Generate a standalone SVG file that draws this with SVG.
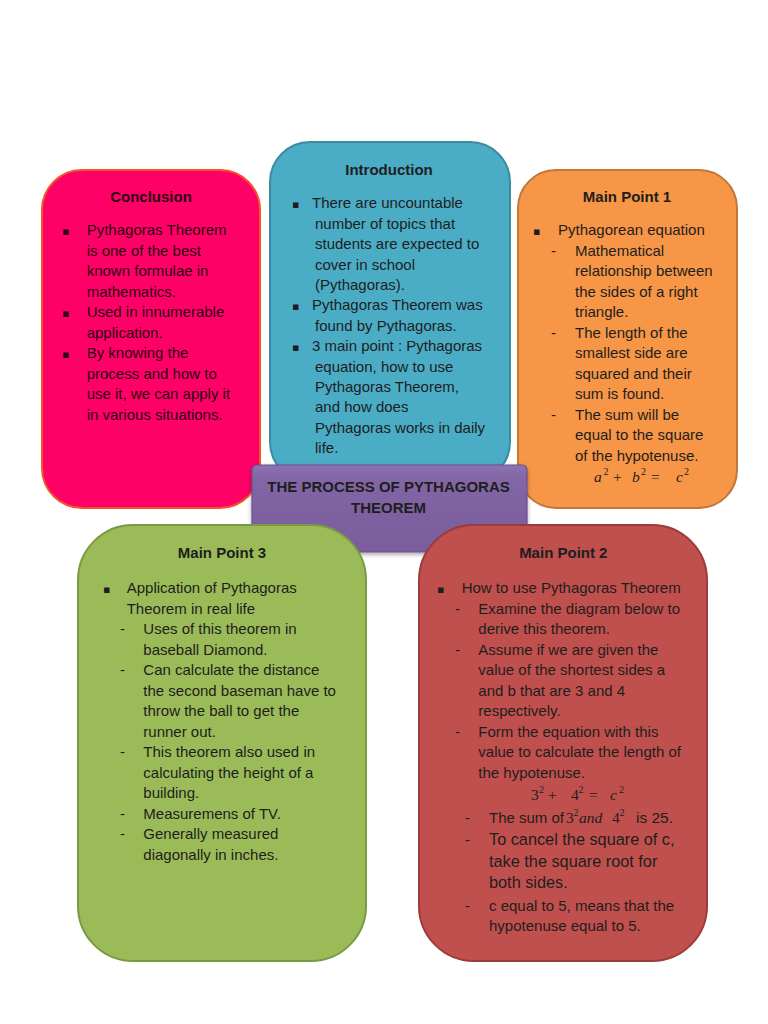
<svg xmlns="http://www.w3.org/2000/svg" width="768" height="1024" viewBox="0 0 768 1024">
<defs>
<linearGradient id="purp" x1="0" y1="0" x2="0" y2="1">
<stop offset="0" stop-color="#8d72b3"/>
<stop offset="0.15" stop-color="#8266a6"/>
<stop offset="1" stop-color="#7a5c9c"/>
</linearGradient>
<filter id="sh" x="-10%" y="-10%" width="120%" height="130%">
<feDropShadow dx="0" dy="2" stdDeviation="2" flood-color="#000" flood-opacity="0.35"/>
</filter>
</defs>
<style>
text{font-family:"Liberation Sans",Arial,sans-serif;font-size:15px;fill:#1e1e1e}
.t{font-weight:bold;text-anchor:middle}
.b{font-family:"DejaVu Sans","Liberation Sans",sans-serif;font-size:11px}
.big{font-size:16.3px}
.m{font-family:"Liberation Serif","Times New Roman",serif;font-style:italic;font-size:15.5px}
.n{font-family:"Liberation Serif","Times New Roman",serif;font-size:15.5px}
.s{font-family:"Liberation Serif","Times New Roman",serif;font-size:10px}
.pk text{fill:#2c0012}
.box{stroke-width:2}
</style>
<rect width="768" height="1024" fill="#ffffff"/>
<g id="connectors"/>

<g id="conclusion" class="pk">
<rect class="box" x="42" y="170" width="218" height="338" rx="40" fill="#ff0066" stroke="#f2542a"/>
<text class="t" x="151" y="201.7">Conclusion</text>
<text class="b" x="62" y="235">▪</text>
<text x="86.7" y="235">Pythagoras Theorem</text>
<text x="86.7" y="255.5">is one of the best</text>
<text x="86.7" y="276">known formulae in</text>
<text x="86.7" y="296.5">mathematics.</text>
<text class="b" x="62" y="317">▪</text>
<text x="86.7" y="317">Used in innumerable</text>
<text x="86.7" y="337.5">application.</text>
<text class="b" x="62" y="358">▪</text>
<text x="86.7" y="358">By knowing the</text>
<text x="86.7" y="378.5">process and how to</text>
<text x="86.7" y="399">use it, we can apply it</text>
<text x="86.7" y="419.5">in various situations.</text>
</g>

<g id="main-point-1">
<rect class="box" x="518" y="170" width="219" height="338" rx="38" fill="#f79646" stroke="#c2763a"/>
<text class="t" x="627" y="201.7">Main Point 1</text>
<text class="b" x="533" y="235">▪</text>
<text x="558" y="235">Pythagorean equation</text>
<text x="551" y="255.5">-</text>
<text x="575" y="255.5">Mathematical</text>
<text x="575" y="276">relationship between</text>
<text x="575" y="296.5">the sides of a right</text>
<text x="575" y="317">triangle.</text>
<text x="551" y="337.5">-</text>
<text x="575" y="337.5">The length of the</text>
<text x="575" y="358">smallest side are</text>
<text x="575" y="378.5">squared and their</text>
<text x="575" y="399">sum is found.</text>
<text x="551" y="419.5">-</text>
<text x="575" y="419.5">The sum will be</text>
<text x="575" y="440">equal to the square</text>
<text x="575" y="460.5">of the hypotenuse.</text>
<text class="m" x="594" y="481.7">a</text><text class="s" x="603.5" y="475">2</text>
<text class="n" x="613" y="481.7">+</text>
<text class="m" x="632" y="481.7">b</text><text class="s" x="641" y="475">2</text>
<text class="n" x="651" y="481.7">=</text>
<text class="m" x="676" y="481.7">c</text><text class="s" x="684" y="475">2</text>
</g>

<g id="introduction">
<rect class="box" x="270" y="142" width="240" height="340" rx="40" fill="#4bacc6" stroke="#3b8ba1"/>
<text class="t" x="389" y="175">Introduction</text>
<text class="b" x="292" y="208.3">▪</text>
<text x="312" y="208.3">There are uncountable</text>
<text x="315" y="228.7">number of topics that</text>
<text x="315" y="249.1">students are expected to</text>
<text x="315" y="269.5">cover in school</text>
<text x="315" y="289.9">(Pythagoras).</text>
<text class="b" x="292" y="310.3">▪</text>
<text x="312" y="310.3">Pythagoras Theorem was</text>
<text x="315" y="330.7">found by Pythagoras.</text>
<text class="b" x="292" y="351.1">▪</text>
<text x="312" y="351.1">3 main point : Pythagoras</text>
<text x="315" y="371.5">equation, how to use</text>
<text x="315" y="391.9">Pythagoras Theorem,</text>
<text x="315" y="412.3">and how does</text>
<text x="315" y="432.7">Pythagoras works in daily</text>
<text x="315" y="453.1">life.</text>
</g>

<g id="title">
<rect x="252" y="465" width="275" height="87" rx="5" fill="url(#purp)" stroke="#6b4f8e" stroke-width="1.2" filter="url(#sh)"/>
<text class="t" x="388.5" y="491.7">THE PROCESS OF PYTHAGORAS</text>
<text class="t" x="388.5" y="513.3">THEOREM</text>
</g>

<g id="main-point-3">
<rect class="box" x="78" y="525" width="288" height="436" rx="55" fill="#9bbb59" stroke="#7a9a42"/>
<text class="t" x="222" y="558.3">Main Point 3</text>
<text class="b" x="103" y="593.3">▪</text>
<text x="126.7" y="593.3">Application of Pythagoras</text>
<text x="126.7" y="613.8">Theorem in real life</text>
<text x="120" y="634.3">-</text>
<text x="143.3" y="634.3">Uses of this theorem in</text>
<text x="143.3" y="654.8">baseball Diamond.</text>
<text x="120" y="675.3">-</text>
<text x="143.3" y="675.3">Can calculate the distance</text>
<text x="143.3" y="695.8">the second baseman have to</text>
<text x="143.3" y="716.3">throw the ball to get the</text>
<text x="143.3" y="736.8">runner out.</text>
<text x="120" y="757.3">-</text>
<text x="143.3" y="757.3">This theorem also used in</text>
<text x="143.3" y="777.8">calculating the height of a</text>
<text x="143.3" y="798.3">building.</text>
<text x="120" y="818.8">-</text>
<text x="143.3" y="818.8">Measuremens of TV.</text>
<text x="120" y="839.3">-</text>
<text x="143.3" y="839.3">Generally measured</text>
<text x="143.3" y="859.8">diagonally in inches.</text>
</g>

<g id="main-point-2">
<rect class="box" x="419" y="525" width="288" height="436" rx="55" fill="#c0504d" stroke="#9b3c3a"/>
<text class="t" x="563.3" y="558.3">Main Point 2</text>
<text class="b" x="437" y="593.3">▪</text>
<text x="461.7" y="593.3">How to use Pythagoras Theorem</text>
<text x="455" y="613.8">-</text>
<text x="478.3" y="613.8">Examine the diagram below to</text>
<text x="478.3" y="634.3">derive this theorem.</text>
<text x="455" y="654.8">-</text>
<text x="478.3" y="654.8">Assume if we are given the</text>
<text x="478.3" y="675.3">value of the shortest sides a</text>
<text x="478.3" y="695.8">and b that are 3 and 4</text>
<text x="478.3" y="716.3">respectively.</text>
<text x="455" y="736.8">-</text>
<text x="478.3" y="736.8">Form the equation with this</text>
<text x="478.3" y="757.3">value to calculate the length of</text>
<text x="478.3" y="777.8">the hypotenuse.</text>
<text class="n" x="531" y="800">3</text><text class="s" x="539" y="793">2</text>
<text class="n" x="548" y="800">+</text>
<text class="n" x="571" y="800">4</text><text class="s" x="578.5" y="793">2</text>
<text class="n" x="589" y="800">=</text>
<text class="m" x="610" y="800">c</text><text class="s" x="619" y="793">2</text>
<text x="465" y="823.3">-</text>
<text x="489" y="823.3">The sum of</text>
<text class="n" x="566" y="823.3">3</text><text class="s" x="573.5" y="816">2</text>
<text class="m" x="579" y="823.3">and</text>
<text class="n" x="612" y="823.3">4</text><text class="s" x="619.5" y="816">2</text>
<text x="636" y="823.3" style="font-size:15.5px">is 25.</text>
<text x="465" y="845">-</text>
<text class="big" x="489" y="845">To cancel the square of c,</text>
<text class="big" x="489" y="867.3">take the square root for</text>
<text class="big" x="489" y="888.3">both sides.</text>
<text x="465" y="910.7">-</text>
<text x="489" y="910.7">c equal to 5, means that the</text>
<text x="489" y="930.7">hypotenuse equal to 5.</text>
</g>
</svg>
